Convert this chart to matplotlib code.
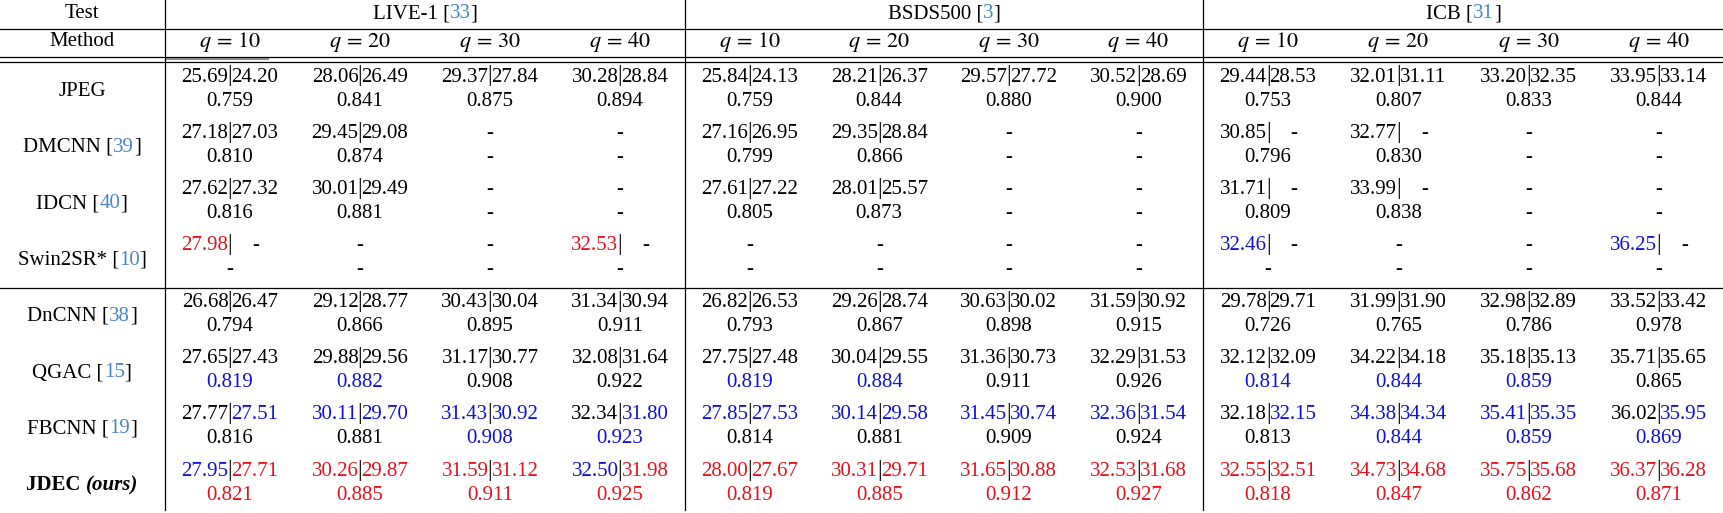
import matplotlib.pyplot as plt

plt.rcParams['font.family'] = ['Liberation Serif', 'DejaVu Serif']
plt.rcParams['mathtext.fontset'] = 'stix'

RED = '#e8101a'
BLUE = '#1010d8'
CITE = '#4a86c5'
CMAP = {'k': 'black', 'r': RED, 'b': BLUE}

datasets = ['LIVE-1', 'BSDS500', 'ICB']
dataset_refs = ['33', '3', '31']
qualities = [10, 20, 30, 40]
methods = ['JPEG', 'DMCNN', 'IDCN', 'Swin2SR*', 'DnCNN', 'QGAC', 'FBCNN', 'JDEC']
method_refs = [None, '39', '40', '10', '38', '15', '19', None]

# per method: 12 cells (LIVE q10..q40, BSDS q10..q40, ICB q10..q40)
psnr = [
    ['25.69', '28.06', '29.37', '30.28', '25.84', '28.21', '29.57', '30.52', '29.44', '32.01', '33.20', '33.95'],
    ['27.18', '29.45', None, None, '27.16', '29.35', None, None, '30.85', '32.77', None, None],
    ['27.62', '30.01', None, None, '27.61', '28.01', None, None, '31.71', '33.99', None, None],
    ['27.98', None, None, '32.53', None, None, None, None, '32.46', None, None, '36.25'],
    ['26.68', '29.12', '30.43', '31.34', '26.82', '29.26', '30.63', '31.59', '29.78', '31.99', '32.98', '33.52'],
    ['27.65', '29.88', '31.17', '32.08', '27.75', '30.04', '31.36', '32.29', '32.12', '34.22', '35.18', '35.71'],
    ['27.77', '30.11', '31.43', '32.34', '27.85', '30.14', '31.45', '32.36', '32.18', '34.38', '35.41', '36.02'],
    ['27.95', '30.26', '31.59', '32.50', '28.00', '30.31', '31.65', '32.53', '32.55', '34.73', '35.75', '36.37'],
]
psnrb = [
    ['24.20', '26.49', '27.84', '28.84', '24.13', '26.37', '27.72', '28.69', '28.53', '31.11', '32.35', '33.14'],
    ['27.03', '29.08', None, None, '26.95', '28.84', None, None, None, None, None, None],
    ['27.32', '29.49', None, None, '27.22', '25.57', None, None, None, None, None, None],
    [None] * 12,
    ['26.47', '28.77', '30.04', '30.94', '26.53', '28.74', '30.02', '30.92', '29.71', '31.90', '32.89', '33.42'],
    ['27.43', '29.56', '30.77', '31.64', '27.48', '29.55', '30.73', '31.53', '32.09', '34.18', '35.13', '35.65'],
    ['27.51', '29.70', '30.92', '31.80', '27.53', '29.58', '30.74', '31.54', '32.15', '34.34', '35.35', '35.95'],
    ['27.71', '29.87', '31.12', '31.98', '27.67', '29.71', '30.88', '31.68', '32.51', '34.68', '35.68', '36.28'],
]
ssim = [
    ['0.759', '0.841', '0.875', '0.894', '0.759', '0.844', '0.880', '0.900', '0.753', '0.807', '0.833', '0.844'],
    ['0.810', '0.874', None, None, '0.799', '0.866', None, None, '0.796', '0.830', None, None],
    ['0.816', '0.881', None, None, '0.805', '0.873', None, None, '0.809', '0.838', None, None],
    [None] * 12,
    ['0.794', '0.866', '0.895', '0.911', '0.793', '0.867', '0.898', '0.915', '0.726', '0.765', '0.786', '0.978'],
    ['0.819', '0.882', '0.908', '0.922', '0.819', '0.884', '0.911', '0.926', '0.814', '0.844', '0.859', '0.865'],
    ['0.816', '0.881', '0.908', '0.923', '0.814', '0.881', '0.909', '0.924', '0.813', '0.844', '0.859', '0.869'],
    ['0.821', '0.885', '0.911', '0.925', '0.819', '0.885', '0.912', '0.927', '0.818', '0.847', '0.862', '0.871'],
]
# colour codes per cell: psnr, psnr-b, ssim
colors = [
    ['kkk'] * 12,
    ['kkk'] * 12,
    ['kkk'] * 12,
    ['rkk', 'kkk', 'kkk', 'rkk', 'kkk', 'kkk', 'kkk', 'kkk', 'bkk', 'kkk', 'kkk', 'bkk'],
    ['kkk'] * 12,
    ['kkb', 'kkb', 'kkk', 'kkk', 'kkb', 'kkb', 'kkk', 'kkk', 'kkb', 'kkb', 'kkb', 'kkk'],
    ['kbk', 'bbk', 'bbb', 'kbb', 'bbk', 'bbk', 'bbk', 'bbk', 'kbk', 'bbb', 'bbb', 'kbb'],
    ['brr', 'rrr', 'rrr', 'brr', 'rrr', 'rrr', 'rrr', 'rrr', 'rrr', 'rrr', 'rrr', 'rrr'],
]

W, H = 1724, 513
fig = plt.figure(figsize=(W / 100, H / 100), dpi=100)
ax = fig.add_axes([0, 0, 1, 1])
ax.set_xlim(0, W)
ax.set_ylim(H, 0)
ax.axis('off')
FS = 15

group_edges = [165, 685, 1203, 1724]
col_w = [(group_edges[g + 1] - group_edges[g]) / 4 for g in range(3)]
centers = [group_edges[g] + col_w[g] * (k + 0.5) for g in range(3) for k in range(4)]


def pieces(x, y, parts, fs=FS):
    # parts: list of (text, color, weight, style); drawn centred at x
    r = fig.canvas.get_renderer()
    objs, widths = [], []
    for t, c, wgt, sty in parts:
        o = ax.text(0, y, t, color=c, fontsize=fs, weight=wgt, style=sty, va='center', ha='left')
        bb = o.get_window_extent(renderer=r)
        objs.append(o)
        widths.append(bb.width)
    x0 = x - sum(widths) / 2
    for o, w in zip(objs, widths):
        o.set_x(x0)
        x0 += w


def label(x, y, name, ref):
    if ref is None:
        ax.text(x, y, name, fontsize=FS, ha='center', va='center')
    else:
        pieces(x, y, [(name + ' [', 'black', 'normal', 'normal'),
                      (ref, CITE, 'normal', 'normal'),
                      (']', 'black', 'normal', 'normal')])


# header
ax.text(82, 14, 'Test', fontsize=FS, ha='center', va='center')
ax.text(82, 42, 'Method', fontsize=FS, ha='center', va='center')
for g in range(3):
    cx = (group_edges[g] + group_edges[g + 1]) / 2
    label(cx, 14, datasets[g], dataset_refs[g])
for i, cx in enumerate(centers):
    ax.text(cx, 42, '$q\\,=\\,%d$' % qualities[i % 4], fontsize=FS + 1, ha='center', va='center')

ax.plot([0, W], [29, 29], color='black', lw=0.9)
ax.plot([0, W], [57, 57], color='black', lw=0.9)
ax.plot([0, W], [62, 62], color='black', lw=0.9)
ax.plot([166, 268], [58.5, 58.5], color='#888888', lw=1.5)

row_top = 63
row_h = 56.3
for m in range(len(methods)):
    top = row_top + m * row_h
    y1, y2 = top + 14, top + 38
    ym = top + row_h / 2
    if methods[m] == 'JDEC':
        pieces(82, ym, [('JDEC ', 'black', 'bold', 'normal'), ('(ours)', 'black', 'bold', 'italic')])
    else:
        label(82, ym, methods[m], method_refs[m])
    for i, cx in enumerate(centers):
        cc = colors[m][i]
        p, pb, s = psnr[m][i], psnrb[m][i], ssim[m][i]
        if p is None:
            ax.text(cx, y1, '-', fontsize=FS, ha='center', va='center')
        else:
            ax.text(cx - 1.5, y1, p, color=CMAP[cc[0]], fontsize=FS, ha='right', va='center')
            ax.text(cx, y1 - 1, '|', fontsize=FS + 2, ha='center', va='center')
            if pb is None:
                ax.text(cx + 26, y1, '-', fontsize=FS, ha='center', va='center')
            else:
                ax.text(cx + 1.5, y1, pb, color=CMAP[cc[1]], fontsize=FS, ha='left', va='center')
        ax.text(cx, y2, s if s is not None else '-', color=CMAP[cc[2]], fontsize=FS,
                ha='center', va='center')

mid = row_top + 4 * row_h
ax.plot([0, W], [mid, mid], color='black', lw=0.9)
for x in group_edges[:3]:
    ax.plot([x, x], [0, 510], color='black', lw=0.9)

fig.savefig('out.png', dpi=100)
